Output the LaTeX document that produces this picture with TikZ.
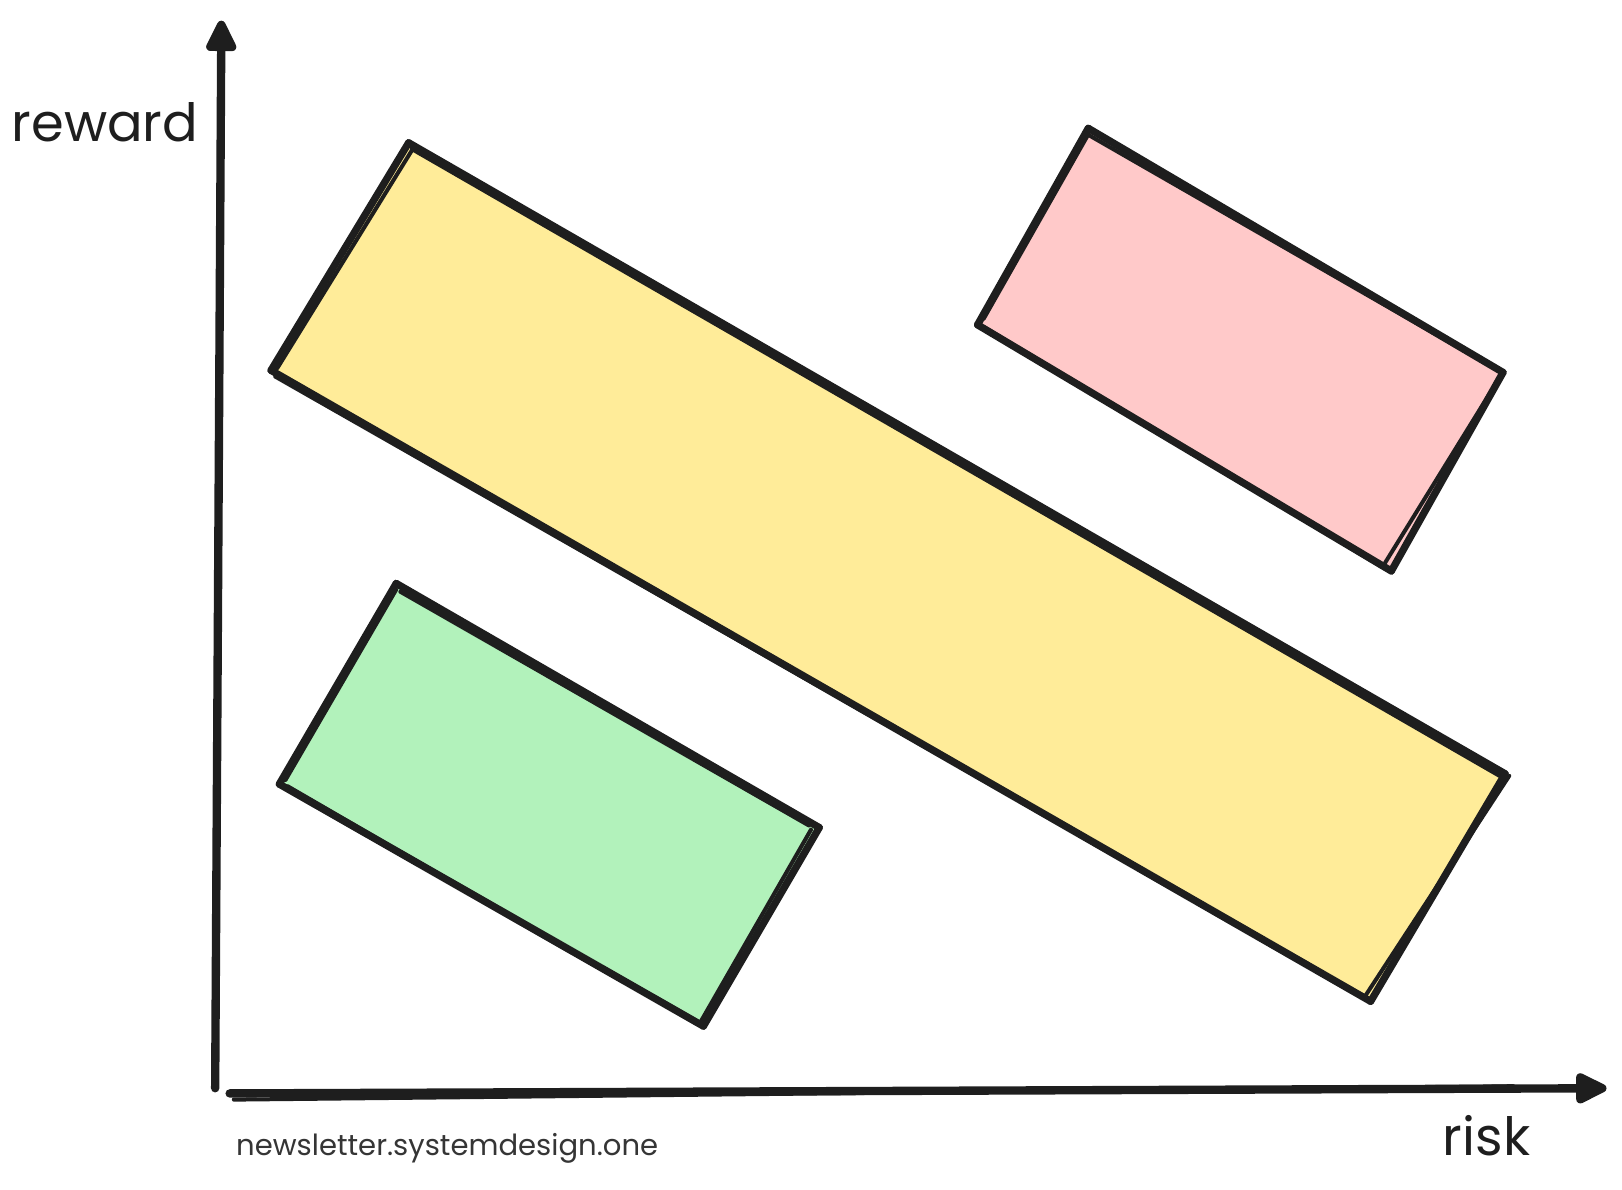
\documentclass[tikz,border=0pt]{standalone}
\usepackage{fontspec}
\setmainfont{Poppins}
\usepackage{tikz}
\usetikzlibrary{arrows.meta, positioning, calc}

\definecolor{ink}{HTML}{1E1E1E}
\definecolor{zoneyellow}{HTML}{FFEC99}
\definecolor{zonepink}{HTML}{FFC9C9}
\definecolor{zonegreen}{HTML}{B2F2BB}

\tikzset{
  sketch/.style={draw=ink, line width=4pt, line cap=round, line join=round},
  sketchthin/.style={draw=ink, line width=2.2pt, line cap=round, line join=round},
  axisline/.style={draw=ink, line width=4.6pt, line cap=round, -{Triangle[length=20pt, width=18pt, round]}},
  axislabel/.style={font=\fontsize{29}{29}\selectfont, text=ink, inner sep=0pt},
}

\begin{document}
\begin{tikzpicture}[x=0.02cm, y=-0.02cm]
        \useasboundingbox (0,0) rectangle (1568,1150);

        % axis end points
        \coordinate (origin) at (208,1052);
        \coordinate (ytop) at (214,20);
        \coordinate (xstart) at (222,1057);
        \coordinate (xend) at (1553,1052);

        % Band (yellow, diagonal)
        \coordinate (y1) at (395,138);
        \coordinate (y2) at (1455,748);
        \coordinate (y3) at (1325,968);
        \coordinate (y4) at (262,358);
        \fill[zoneyellow] (y1) -- (y2) -- (y3) -- (y4) -- cycle;
        \draw[sketch] (y1) -- (y2);
        \draw[sketchthin] ($(y1)+(3,6)$) -- ($(y2)+(-2,4)$);
        \draw[sketch] (y2) -- (y3);
        \draw[sketchthin] ($(y2)+(4,2)$) -- ($(y3)+(-6,-4)$);
        \draw[sketch] (y3) -- (y4);
        \draw[sketchthin] ($(y3)+(-4,-3)$) -- ($(y4)+(4,6)$);
        \draw[sketch] (y4) -- (y1);
        \draw[sketchthin] ($(y4)+(6,-2)$) -- ($(y1)+(4,6)$);

        % High risk (pink, top right)
        \coordinate (p1) at (1052,124);
        \coordinate (p2) at (1453,360);
        \coordinate (p3) at (1345,552);
        \coordinate (p4) at (945,314);
        \fill[zonepink] (p1) -- (p2) -- (p3) -- (p4) -- cycle;
        \draw[sketch] (p1) -- (p2);
        \draw[sketchthin] ($(p1)+(-4,4)$) -- ($(p2)+(-8,-4)$);
        \draw[sketch] (p2) -- (p3);
        \draw[sketchthin] ($(p2)+(-4,6)$) -- ($(p3)+(-6,-8)$);
        \draw[sketch] (p3) -- (p4);
        \draw[sketchthin] ($(p3)+(-6,-2)$) -- ($(p4)+(6,2)$);
        \draw[sketch] (p4) -- (p1);
        \draw[sketchthin] ($(p4)+(6,-6)$) -- ($(p1)+(0,6)$);

        % Low risk (green, bottom left)
        \coordinate (g1) at (383,564);
        \coordinate (g2) at (792,800);
        \coordinate (g3) at (680,992);
        \coordinate (g4) at (270,758);
        \fill[zonegreen] (g1) -- (g2) -- (g3) -- (g4) -- cycle;
        \draw[sketch] (g1) -- (g2);
        \draw[sketchthin] ($(g1)+(4,8)$) -- ($(g2)+(-10,-2)$);
        \draw[sketch] (g2) -- (g3);
        \draw[sketchthin] ($(g2)+(-8,2)$) -- ($(g3)+(-4,-2)$);
        \draw[sketch] (g3) -- (g4);
        \draw[sketchthin] ($(g3)+(-6,-2)$) -- ($(g4)+(8,2)$);
        \draw[sketch] (g4) -- (g1);
        \draw[sketchthin] ($(g4)+(6,-4)$) -- ($(g1)+(0,6)$);

        % Axes
        \draw[axisline] (origin) -- (ytop);
        \draw[axisline] (xstart) -- (xend);
        \draw[sketchthin] ($(xstart)+(4,6)$) -- ($(xend)+(-90,-2)$);

        % Labels
        \node[axislabel, anchor=east] (reward) at (192,118) {reward};
        \node[axislabel] (risk) at (1437,1098) {risk};
        \node[font=\fontsize{16}{16}\selectfont, text=ink!90, inner sep=0pt, anchor=west] (site) at (228,1110) {newsletter.systemdesign.one};
\end{tikzpicture}
\end{document}
